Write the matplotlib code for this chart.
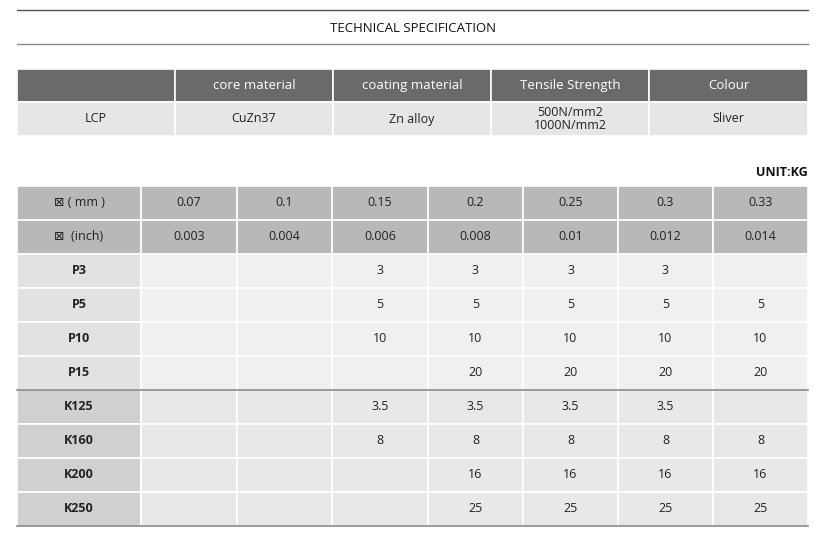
import matplotlib
matplotlib.use("Agg")
import matplotlib.pyplot as plt
from matplotlib.patches import Rectangle

plt.rcParams['font.family'] = ['Open Sans', 'DejaVu Sans']

title = "TECHNICAL SPECIFICATION"
t1_header = ["", "core material", "coating material", "Tensile Strength", "Colour"]
t1_row = ["LCP", "CuZn37", "Zn alloy", "500N/mm2\n1000N/mm2", "Sliver"]
unit = "UNIT:KG"
mm_vals = ["0.07", "0.1", "0.15", "0.2", "0.25", "0.3", "0.33"]
inch_vals = ["0.003", "0.004", "0.006", "0.008", "0.01", "0.012", "0.014"]
row_labels = ["P3", "P5", "P10", "P15", "K125", "K160", "K200", "K250"]
row_values = [
    ["", "", "3", "3", "3", "3", ""],
    ["", "", "5", "5", "5", "5", "5"],
    ["", "", "10", "10", "10", "10", "10"],
    ["", "", "", "20", "20", "20", "20"],
    ["", "", "3.5", "3.5", "3.5", "3.5", ""],
    ["", "", "8", "8", "8", "8", "8"],
    ["", "", "", "16", "16", "16", "16"],
    ["", "", "", "25", "25", "25", "25"],
]

fig = plt.figure(figsize=(8.26, 5.4), dpi=100)
ax = fig.add_axes([0, 0, 1, 1])
ax.set_xlim(0, 826); ax.set_ylim(540, 0); ax.axis('off')

L, R = 17, 808
ax.plot([L, R], [10, 10], color='#555555', lw=1)
ax.plot([L, R], [44, 44], color='#888888', lw=1)
ax.text((L + R) / 2, 28, title, ha='center', va='center', fontsize=9.5, color='#111111')

def cell(x0, x1, y0, y1, fc, txt, tc='#222222', bold=False, fs=9):
    ax.add_patch(Rectangle((x0, y0), x1 - x0, y1 - y0, facecolor=fc, edgecolor='white', lw=1.2))
    if txt:
        ax.text((x0 + x1) / 2, (y0 + y1) / 2, txt, ha='center', va='center', fontsize=fs,
                color=tc, fontweight='bold' if bold else 'normal', linespacing=0.95)

cx1 = [17, 175, 333, 491, 649, 808]
for i, h in enumerate(t1_header):
    cell(cx1[i], cx1[i + 1], 69, 102, '#6a6a6a', h, tc='white', fs=9.5)
for i, v in enumerate(t1_row):
    cell(cx1[i], cx1[i + 1], 102, 136, '#e6e6e6', v, fs=9)

ax.text(R, 172, unit, ha='right', va='center', fontsize=9, fontweight='bold', color='#111111')

cx2 = [17, 141, 237, 332, 428, 523, 618, 713, 808]
y0 = 186; rh = 34
hdr = [["\u22a0 ( mm )"] + mm_vals, ["\u22a0  (inch)"] + inch_vals]
for r, row in enumerate(hdr):
    for i, v in enumerate(row):
        cell(cx2[i], cx2[i + 1], y0 + r * rh, y0 + (r + 1) * rh, '#b8b8b8', v)
for r, (lab, vals) in enumerate(zip(row_labels, row_values)):
    ya = y0 + (r + 2) * rh
    isk = lab.startswith('K')
    cell(cx2[0], cx2[1], ya, ya + rh, '#d0d0d0' if isk else '#e2e2e2', lab, bold=True)
    for i, v in enumerate(vals):
        cell(cx2[i + 1], cx2[i + 2], ya, ya + rh, '#e8e8e8' if isk else '#f0f0f0', v)
ax.plot([L, R], [y0 + 6 * rh, y0 + 6 * rh], color='#888888', lw=1.2)
ax.plot([L, R], [y0 + 10 * rh, y0 + 10 * rh], color='#888888', lw=1.2)

fig.savefig('out.png', dpi=100)
